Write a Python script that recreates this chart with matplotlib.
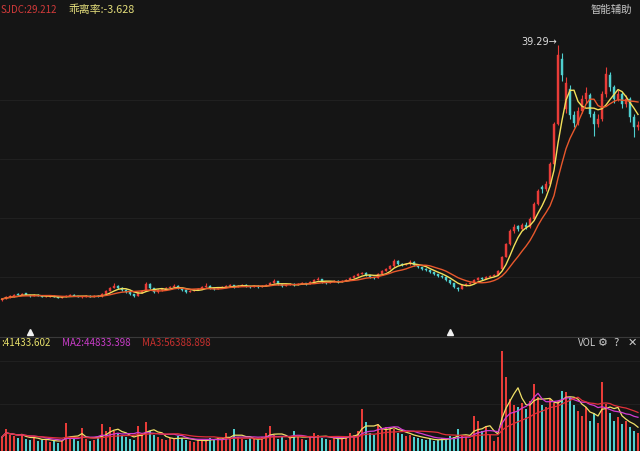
import matplotlib.pyplot as plt
import pandas as pd

plt.rcParams['font.family'] = ['Noto Sans CJK SC', 'DejaVu Sans']

# daily candles, oldest first (price in yuan)
opens = [7.35, 7.50, 7.72, 7.85, 8.10, 8.05, 8.20, 8.00, 7.88, 8.02,
         7.90, 7.75, 7.80, 7.92, 7.75, 7.63, 7.75, 7.88, 8.02, 7.88,
         7.72, 7.80, 7.90, 7.75, 7.90, 7.85, 8.13, 8.50, 8.90, 9.10,
         8.88, 8.63, 8.38, 8.10, 7.90, 8.25, 8.55, 9.35, 8.85, 8.38,
         8.60, 8.75, 8.88, 9.00, 9.15, 8.85, 8.60, 8.38, 8.50, 8.63,
         8.75, 9.00, 9.15, 8.88, 8.75, 8.88, 9.00, 9.13, 9.25, 9.00,
         9.13, 9.28, 9.13, 9.00, 9.15, 9.00, 9.13, 9.25, 9.50, 9.75,
         9.38, 9.13, 9.25, 9.40, 9.25, 9.38, 9.50, 9.38, 9.63, 9.88,
         10.00, 9.63, 9.50, 9.63, 9.78, 9.63, 9.75, 9.88, 10.13, 10.38,
         10.63, 10.80, 10.50, 10.25, 10.13, 10.63, 11.00, 11.25, 11.63, 12.25,
         11.88, 11.75, 11.88, 12.13, 11.75, 11.50, 11.28, 11.13, 10.88, 10.63,
         10.40, 10.25, 9.88, 9.50, 8.90, 8.75, 9.25, 9.40, 9.50, 9.88,
         10.15, 10.00, 10.25, 10.38, 10.50, 11.20, 12.75, 14.38, 16.00, 16.60,
         16.25, 16.80, 16.50, 17.50, 19.38, 21.50, 21.25, 21.88, 24.38, 29.38,
         37.50, 31.25, 33.75, 30.50, 29.50, 31.00, 32.50, 33.00, 30.63, 29.38,
         30.00, 33.13, 35.50, 34.00, 32.50, 33.13, 31.88, 32.50, 30.25, 29.00]
closes = [7.50, 7.75, 7.88, 8.00, 8.00, 8.13, 8.00, 7.88, 8.00, 7.88,
          7.75, 7.80, 7.88, 7.75, 7.63, 7.75, 7.88, 8.00, 7.88, 7.75,
          7.80, 7.88, 7.75, 7.88, 7.85, 8.13, 8.50, 8.88, 9.13, 8.88,
          8.63, 8.38, 8.13, 7.88, 8.25, 8.50, 9.38, 8.88, 8.38, 8.63,
          8.75, 8.88, 9.00, 9.13, 8.88, 8.63, 8.38, 8.50, 8.63, 8.75,
          9.00, 9.13, 8.88, 8.75, 8.88, 9.00, 9.13, 9.25, 9.00, 9.13,
          9.25, 9.13, 9.00, 9.13, 9.00, 9.13, 9.25, 9.50, 9.75, 9.38,
          9.13, 9.25, 9.38, 9.25, 9.38, 9.50, 9.38, 9.63, 9.88, 10.00,
          9.63, 9.50, 9.63, 9.75, 9.63, 9.75, 9.88, 10.13, 10.38, 10.63,
          10.75, 10.50, 10.25, 10.13, 10.63, 11.00, 11.25, 11.63, 12.25, 11.88,
          11.75, 11.88, 12.13, 11.75, 11.50, 11.25, 11.13, 10.88, 10.63, 10.38,
          10.25, 9.88, 9.50, 9.00, 8.75, 9.25, 9.38, 9.50, 9.88, 10.13,
          10.00, 10.25, 10.38, 10.50, 11.00, 12.75, 14.38, 16.00, 16.50, 16.25,
          16.75, 16.50, 17.50, 19.38, 21.00, 21.25, 21.88, 24.38, 29.38, 38.00,
          35.50, 34.50, 30.50, 29.50, 31.00, 32.50, 33.25, 30.63, 29.38, 30.00,
          33.13, 35.63, 34.00, 32.50, 33.13, 31.88, 32.50, 30.25, 29.00, 29.21]
highs = [7.60, 7.85, 7.95, 8.10, 8.20, 8.25, 8.28, 8.05, 8.10, 8.10,
         7.95, 7.88, 7.95, 8.00, 7.80, 7.82, 7.95, 8.10, 8.08, 7.92,
         7.88, 7.95, 7.98, 7.95, 7.98, 8.20, 8.60, 9.00, 9.45, 9.20,
         8.95, 8.70, 8.45, 8.15, 8.32, 8.60, 9.60, 9.45, 8.90, 8.70,
         8.82, 8.95, 9.10, 9.40, 9.22, 8.90, 8.65, 8.58, 8.70, 8.82,
         9.08, 9.45, 9.20, 8.92, 8.95, 9.08, 9.20, 9.32, 9.30, 9.20,
         9.35, 9.35, 9.18, 9.20, 9.22, 9.20, 9.32, 9.58, 9.95, 9.80,
         9.42, 9.32, 9.45, 9.48, 9.45, 9.60, 9.55, 9.70, 9.95, 10.20,
         10.05, 9.68, 9.70, 9.82, 9.85, 9.82, 9.95, 10.20, 10.45, 10.75,
         10.90, 10.88, 10.55, 10.30, 10.70, 11.10, 11.35, 11.75, 12.50, 12.35,
         11.95, 11.95, 12.40, 12.20, 11.80, 11.55, 11.35, 11.18, 10.92, 10.68,
         10.45, 10.30, 9.92, 9.55, 8.98, 9.32, 9.45, 9.58, 9.95, 10.20,
         10.22, 10.32, 10.45, 10.58, 11.10, 12.90, 14.50, 16.20, 16.90, 16.80,
         17.00, 17.10, 17.70, 19.60, 21.30, 21.80, 22.30, 24.60, 29.60, 39.29,
         38.20, 35.20, 34.20, 31.00, 31.50, 33.00, 34.00, 33.30, 31.00, 30.60,
         33.50, 36.50, 35.90, 34.30, 33.60, 33.40, 33.00, 32.80, 30.60, 29.80]
lows = [7.25, 7.45, 7.65, 7.80, 7.95, 8.00, 7.95, 7.80, 7.85, 7.82,
        7.70, 7.70, 7.75, 7.70, 7.58, 7.60, 7.70, 7.85, 7.82, 7.70,
        7.68, 7.76, 7.70, 7.72, 7.78, 7.80, 8.08, 8.45, 8.85, 8.80,
        8.55, 8.30, 8.05, 7.80, 7.85, 8.20, 8.50, 8.80, 8.25, 8.30,
        8.55, 8.70, 8.82, 8.95, 8.80, 8.55, 8.30, 8.32, 8.45, 8.58,
        8.70, 8.95, 8.80, 8.68, 8.70, 8.82, 8.95, 9.08, 8.92, 8.95,
        9.08, 9.05, 8.92, 8.95, 8.92, 8.95, 9.08, 9.20, 9.45, 9.30,
        9.05, 9.08, 9.20, 9.18, 9.20, 9.32, 9.30, 9.32, 9.58, 9.82,
        9.55, 9.42, 9.45, 9.58, 9.55, 9.58, 9.70, 9.82, 10.08, 10.32,
        10.58, 10.42, 10.15, 10.05, 10.08, 10.55, 10.95, 11.20, 11.55, 11.80,
        11.65, 11.70, 11.80, 11.68, 11.42, 11.18, 11.05, 10.80, 10.55, 10.30,
        10.18, 9.80, 9.42, 8.92, 8.50, 8.70, 9.18, 9.35, 9.45, 9.82,
        9.92, 9.95, 10.20, 10.32, 10.45, 11.10, 12.70, 14.30, 15.80, 16.00,
        16.10, 16.30, 16.40, 17.40, 19.20, 20.80, 21.00, 21.80, 24.30, 29.20,
        34.80, 30.80, 30.00, 29.00, 29.20, 30.70, 32.00, 30.20, 27.90, 29.00,
        29.80, 32.80, 33.50, 32.00, 32.20, 31.40, 31.50, 29.60, 27.80, 28.60]
volumes = [21000, 33000, 24000, 22500, 19500, 25500, 18000, 16500, 21000, 15000,
           16500, 18000, 13500, 15000, 12000, 16500, 42000, 21000, 18000, 15000,
           34500, 18000, 15000, 16500, 19500, 40500, 30000, 36000, 30000, 27000,
           22500, 21000, 18000, 16500, 37500, 24000, 43500, 30000, 24000, 21000,
           18000, 16500, 19500, 18000, 22500, 19500, 16500, 15000, 13500, 16500,
           18000, 15000, 19500, 16500, 21000, 18000, 27000, 19500, 33000, 21000,
           18000, 16500, 19500, 18000, 16500, 21000, 27000, 37500, 24000, 18000,
           21000, 16500, 19500, 30000, 21000, 18000, 16500, 22500, 27000, 24000,
           19500, 18000, 16500, 21000, 18000, 19500, 22500, 27000, 24000, 30000,
           63000, 43500, 27000, 24000, 40500, 33000, 36000, 33000, 33000, 27000,
           25500, 22500, 24000, 21000, 19500, 18000, 16500, 18000, 15000, 16500,
           19500, 18000, 22500, 21000, 33000, 24000, 21000, 18000, 52500, 45000,
           30000, 37500, 24000, 15000, 21000, 150000, 111000, 78000, 69000, 66000,
           72000, 63000, 75000, 100500, 81000, 69000, 66000, 78000, 72000, 75000,
           90000, 88500, 81000, 69000, 60000, 52500, 66000, 45000, 57000, 42000,
           103500, 70500, 57000, 45000, 51000, 40500, 45000, 36000, 30000, 27000]
signal_days = [7, 112]

bg = '#151515'
up_color = '#e83c38'
down_color = '#4fcfcf'
grid_color = '#232323'

fig = plt.figure(figsize=(6.4, 4.52), dpi=100, facecolor=bg)
ax = fig.add_axes([0, 114 / 452, 1, 338 / 452], facecolor=bg)
axv = fig.add_axes([0, 0, 1, 115 / 452], facecolor=bg)

n = len(closes)
idx = list(range(n))
colors = [up_color if c >= o else down_color for o, c in zip(opens, closes)]
bottoms = [min(o, c) for o, c in zip(opens, closes)]
bodies = [max(abs(c - o), 0.04) for o, c in zip(opens, closes)]

for y in [32.375, 25.0, 17.625, 10.25]:
    ax.axhline(y, color=grid_color, lw=0.6, zorder=0)

ax.vlines(idx, lows, highs, colors=colors, lw=0.8, zorder=2)
ax.bar(idx, bodies, 0.62, bottoms, color=colors, edgecolor=colors, lw=0.3, zorder=3)

s = pd.Series(closes)
ax.plot(idx, s.rolling(5, min_periods=1).mean(), color='#f2e05a', lw=1.0, zorder=4)
ax.plot(idx, s.rolling(10, min_periods=1).mean(), color='#e8582c', lw=1.0, zorder=4)

ax.plot(signal_days, [3.4] * len(signal_days), '^', color='#f0f0f0', ms=4, zorder=5)
ax.text(138.7, 39.7, '39.29\u2192', color='#dddddd', fontsize=7, ha='right', va='center',
        family=['DejaVu Sans'])

ax.set_xlim(-0.5, n - 0.5)
ax.set_ylim(45 - 338 / 8, 45)
ax.axis('off')

# volume panel
for y in [135000, 70500]:
    axv.axhline(y, color=grid_color, lw=0.6, zorder=0)
axv.axhline(171000, color='#3a3a3a', lw=0.8)
axv.bar(idx, volumes, 0.62, color=colors, lw=0, zorder=2)
v = pd.Series(volumes)
axv.plot(idx, v.rolling(5, min_periods=1).mean(), color='#f0e068', lw=0.9, zorder=3)
axv.plot(idx, v.rolling(10, min_periods=1).mean(), color='#d23cd2', lw=0.9, zorder=3)
axv.plot(idx, v.rolling(20, min_periods=1).mean(), color='#e0303a', lw=0.9, zorder=3)
axv.set_xlim(-0.5, n - 0.5)
axv.set_ylim(0, 172500)
axv.axis('off')

# header texts
def ftext(px, py, s, color, size=7, ha='left'):
    fig.text(px / 640, 1 - py / 452, s, color=color, fontsize=size, ha=ha, va='center')

ftext(1, 10, 'SJDC:29.212', '#d23a3a')
ftext(68, 10, '乖离率:-3.628', '#e2dc7a', 7.8)
ftext(632, 10, '智能辅助', '#c8c8c8', 7.5, ha='right')
ftext(1, 343, ':41433.602', '#e6df6a')
ftext(62, 343, 'MA2:44833.398', '#c83cc8')
ftext(142, 343, 'MA3:56388.898', '#c8302e')
ftext(578, 343, 'VOL', '#cccccc')
ftext(598, 343, '\u2699', '#cccccc', 8)
ftext(614, 343, '?', '#cccccc', 8)
ftext(628, 343, '\u2715', '#cccccc', 8)

fig.savefig('out.png', dpi=100, facecolor=bg)
